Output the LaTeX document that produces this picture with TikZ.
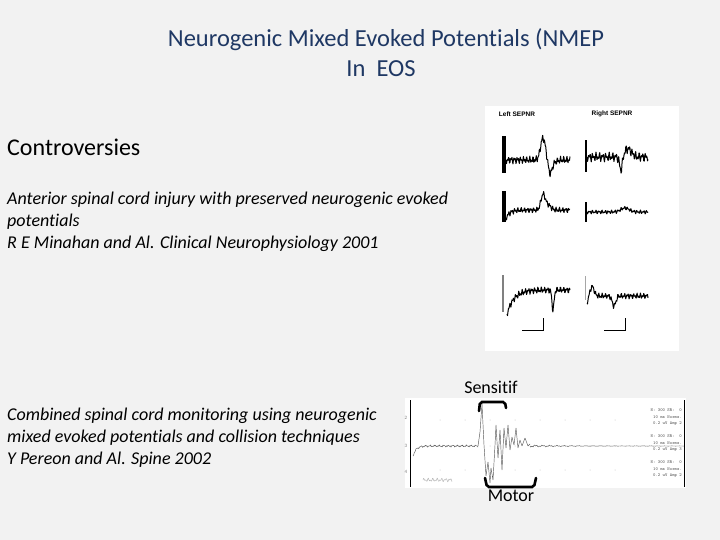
\documentclass[tikz,border=0pt]{standalone}
\usepackage{fontspec}
\setmainfont{Carlito}[Ligatures={NoCommon}]
\newfontfamily\arialf{Liberation Sans}
\definecolor{slidebg}{HTML}{F2F2F2}
\definecolor{titleblue}{HTML}{1F3864}
\begin{document}
\begin{tikzpicture}[x=1pt,y=-1pt,
  trace/.style={black,line width=1pt,line join=round},
  thin trace/.style={gray!70!black,line width=0.45pt,line join=round},
  body/.style={anchor=west,font=\fontsize{18}{20}\selectfont\itshape,inner sep=0pt},
  bracket/.style={line width=2.6pt,line cap=round,rounded corners=2pt},
  tinytxt/.style={font=\fontsize{4.5}{5}\selectfont\ttfamily,gray!60!black,anchor=east,inner sep=0pt}]
\fill[slidebg] (0,0) rectangle (720,540);
\useasboundingbox (0,0) rectangle (720,540);
% title
\node[titleblue,font=\fontsize{24.5}{26}\selectfont] (t1) at (386,40) {Neurogenic Mixed Evoked Potentials (NMEP};
\node[titleblue,font=\fontsize{24.5}{26}\selectfont] (t2) at (381,69) {In\ \ EOS};
\node[anchor=west,inner sep=0pt,font=\fontsize{24}{26}\selectfont] (cv) at (7,147) {Controversies};
\node[body] (a1) at (7,200) {Anterior spinal cord injury with preserved neurogenic evoked};
\node[body] (a2) at (7,222) {potentials};
\node[body] (a3) at (7,244) {R E Minahan and Al. Clinical Neurophysiology 2001};
\node[body] (b1) at (7,416) {Combined spinal cord monitoring using neurogenic};
\node[body] (b2) at (7,438) {mixed evoked potentials and collision techniques};
\node[body] (b3) at (7,460) {Y Pereon and Al. Spine 2002};
% top figure
\fill[white] (485,106) rectangle (679,351);
\node[font=\arialf\fontsize{6.5}{7}\selectfont\bfseries] (l) at (517,114) {Left SEPNR};
\node[font=\arialf\fontsize{6.5}{7}\selectfont\bfseries] (r) at (612,114) {Right SEPNR};
\fill[black] (502,136) rectangle (506,173);
\fill[black] (502,191) rectangle (506,222);
\fill[gray] (502,275) rectangle (504,312);
\fill[black] (585,140) rectangle (587,172);
\fill[black] (585,202) rectangle (587,222);
\fill[gray!70] (585,276) rectangle (586,300);
\draw[trace] plot[domain=0:64,samples=130] ({506+\x},{160+4*sin(\x*170)*cos(\x*53)-22*exp(-((\x-37)/3.5)^2)+12*exp(-((\x-44)/2.5)^2)+3*exp(-((\x-47)/4)^2)});
\draw[trace] plot[domain=0:61,samples=130] ({587+\x},{157+5*sin(\x*150)*cos(\x*41)+14*exp(-((\x-34)/2)^2)-8*exp(-((\x-41)/5)^2)});
\draw[trace] plot[domain=0:64,samples=130] ({506+\x},{210+8*exp(-\x/4)+3*sin(\x*160)*cos(\x*47)-15*exp(-((\x-37)/3)^2)-5*exp(-((\x-42)/4)^2)});
\draw[trace] plot[domain=0:61,samples=130] ({587+\x},{212+2*sin(\x*150)*cos(\x*37)-4*exp(-((\x-38)/6)^2)});
\draw[trace] plot[domain=0:63,samples=130] ({507+\x},{290+24*exp(-\x/7)+3.5*sin(\x*160)*cos(\x*47)+20*exp(-((\x-46)/1.5)^2)});
\draw[trace] plot[domain=0:61,samples=130] ({587+\x},{296-10*exp(-((\x-5)/3)^2)+8*exp(-\x/2)+3*sin(\x*160)*cos(\x*47)+10*exp(-((\x-27)/2.5)^2)});
\draw[line width=0.4pt] (543,318) -- (543,330) -- (522,330);
\draw[line width=0.4pt] (625,318) -- (625,330) -- (604,330);
% bottom figure
\fill[white] (405,398) rectangle (686,488);
\draw[line width=0.6pt] (410,400) -- (410,487);
\draw[line width=0.6pt] (684,400) -- (684,487);
\node[font=\fontsize{5}{5}\selectfont,gray] (y2) at (406,418) {2};
\node[font=\fontsize{5}{5}\selectfont,gray] (y3) at (406,446) {3};
\node[font=\fontsize{5}{5}\selectfont,gray] (y4) at (406,472) {4};
\foreach \gx in {440,465,490,515,540,565,590,615}{\foreach \gy in {420,446,470}{\fill[gray!50] (\gx,\gy) circle (0.5);}}
\draw[thin trace] plot[domain=0:65,samples=90] ({413+\x},{446+10*exp(-\x/3)+1.2*sin(\x*140)*cos(\x*61)});
\draw[thin trace] (478,446) -- (480,432) -- (482,404) -- (484,445) -- (486,476) -- (488,462) -- (490,483) -- (491,468) -- (493,480) -- (495,445) -- (496,425) -- (498,458) -- (500,430) -- (502,470) -- (504,428) -- (506,448) -- (508,425) -- (510,450) -- (512,437) -- (514,445) -- (516,428) -- (518,448) -- (520,440) -- (522,446) -- (525,438) -- (528,446) -- (530,444);
\draw[thin trace] plot[domain=0:154,samples=200] ({530+\x},{446+1.5*exp(-\x/40)*sin(\x*97)*cos(\x*47)});
\draw[thin trace,gray!60] plot[domain=0:29,samples=50] ({423+\x},{480-2*sin(\x*120)*cos(\x*37)});
\node[tinytxt] (n1) at (682,410) {N: 300 SR:\ \ 0};
\node[tinytxt] (n2) at (682,417) {10 ms Norme.};
\node[tinytxt] (n3) at (682,424) {0.2 uV Amp 2};
\node[tinytxt] (n4) at (682,436) {N: 300 SR:\ \ 0};
\node[tinytxt] (n5) at (682,443) {10 ms Norme.};
\node[tinytxt] (n6) at (682,450) {0.2 uV Amp 3};
\node[tinytxt] (n7) at (682,462) {N: 300 SR:\ \ 0};
\node[tinytxt] (n8) at (682,469) {10 ms Norme.};
\node[tinytxt] (n9) at (682,476) {0.2 uV Amp 2};
% brackets
\node[font=\fontsize{18}{20}\selectfont] (sens) at (491,387) {Sensitif};
\node[font=\fontsize{18}{20}\selectfont] (mot) at (511,496) {Motor};
\draw[bracket] (479,411) -- (480,402) -- (505,402) -- (506,408);
\draw[bracket] (485,478) -- (487,487) -- (534,487) -- (536,478);
\end{tikzpicture}
\end{document}
